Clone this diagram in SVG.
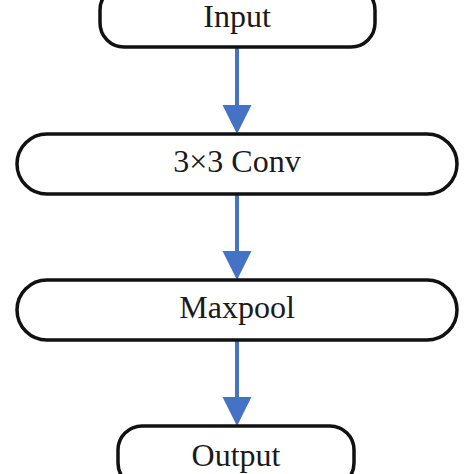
<svg xmlns="http://www.w3.org/2000/svg" width="474" height="474" viewBox="0 0 474 474">
<style>
.box{fill:#fff;stroke:#111;stroke-width:3.5}
.lbl{font-family:"Liberation Serif","Times New Roman",serif;font-size:32px;fill:#1a1a1a;text-anchor:middle}
.conn line{stroke:#4472C4;stroke-width:4}
.conn polygon{fill:#4472C4}
</style>
<rect width="474" height="474" fill="#fff"/>
<g id="connectors" class="conn">
<line x1="237" y1="48" x2="237" y2="108"/>
<polygon points="222.5,105 251.5,105 237,134"/>
<line x1="237" y1="194" x2="237" y2="254"/>
<polygon points="222.5,251 251.5,251 237,280"/>
<line x1="237" y1="340" x2="237" y2="400"/>
<polygon points="222.5,397 251.5,397 237,426"/>
</g>
<g id="node-input">
<rect class="box" x="100" y="-14" width="275" height="61" rx="24"/>
<text class="lbl" x="237" y="27">Input</text>
</g>
<g id="node-conv">
<rect class="box" x="17" y="134" width="440" height="60" rx="30"/>
<text class="lbl" x="237" y="172">3×3 Conv</text>
</g>
<g id="node-maxpool">
<rect class="box" x="17" y="280" width="440" height="60" rx="30"/>
<text class="lbl" x="237" y="318">Maxpool</text>
</g>
<g id="node-output">
<rect class="box" x="118" y="426" width="236" height="61" rx="24"/>
<text class="lbl" x="236" y="466">Output</text>
</g>
</svg>
